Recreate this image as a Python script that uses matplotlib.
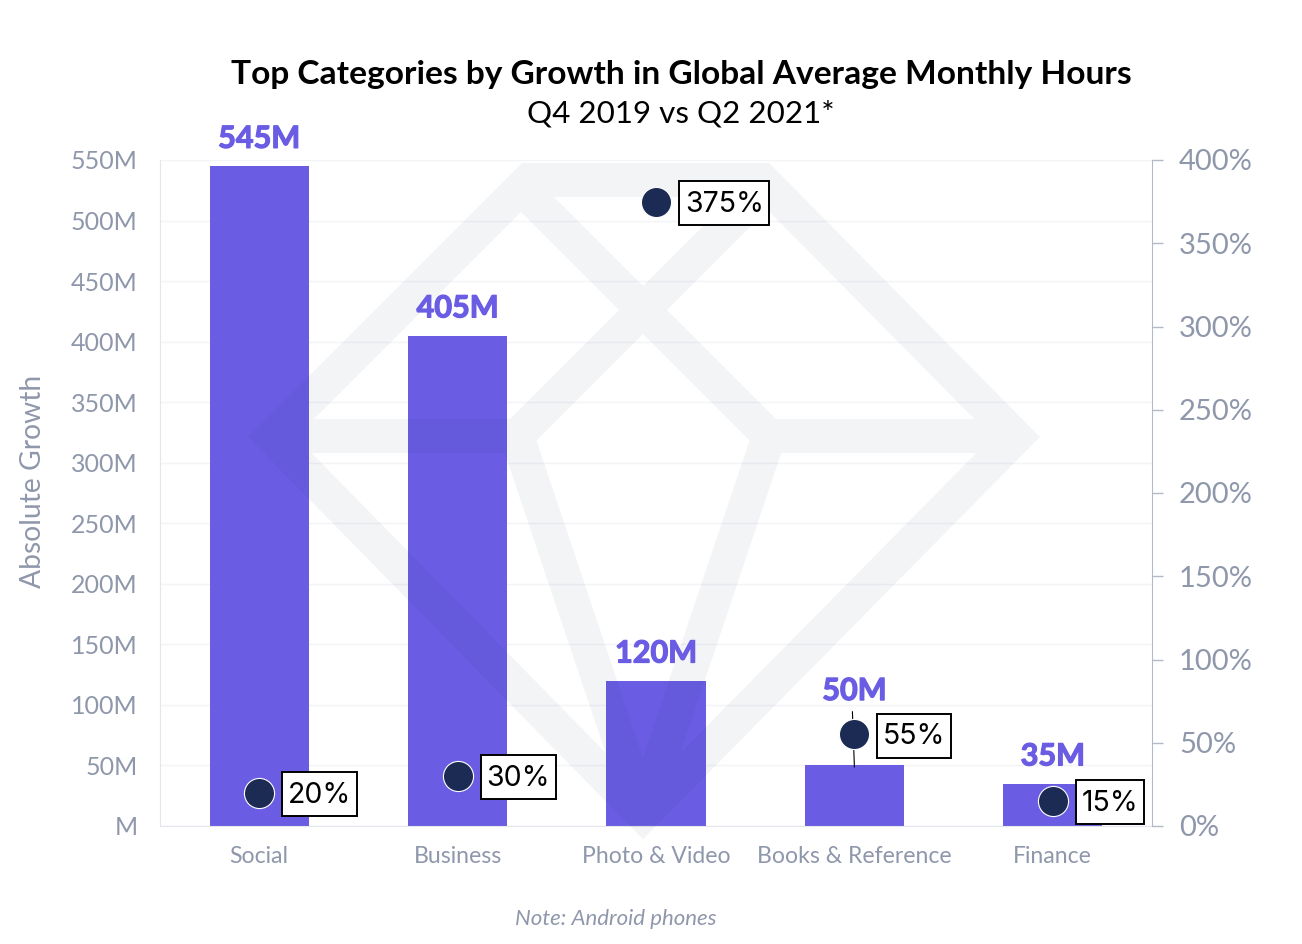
import matplotlib
matplotlib.use("Agg")
import matplotlib.pyplot as plt
import matplotlib.patheffects as pe
from matplotlib.path import Path
from matplotlib.patches import PathPatch
from matplotlib.transforms import Affine2D, ScaledTranslation

plt.rcParams['font.family'] = ['Lato', 'DejaVu Sans']

categories = ["Social", "Business", "Photo & Video", "Books & Reference", "Finance"]
absolute_growth = [545, 405, 120, 50, 35]
percent_growth = [20, 30, 375, 55, 15]
left_ticks = list(range(0, 551, 50))
left_tick_labels = ["M"] + [str(v) + "M" for v in left_ticks[1:]]
right_ticks = list(range(0, 401, 50))
right_tick_labels = [str(v) + "%" for v in right_ticks]

# leader line on the books bar, (category position, percent)
leader_x = [2.99, 3.0]
leader_y = [68.6, 35.5]

# background logo, in image pixels
logo_outline = [(529, 181), (762, 181), (1016, 438), (643, 816), (272, 438)]
logo_lines = [
    [(272, 437), (517, 437)],
    [(769, 437), (1016, 437)],
    [(522, 190), (769, 437), (643, 812)],
    [(764, 190), (517, 437), (643, 812)],
]

PURPLE = "#6A5DE3"
GREY = "#8F97AB"
NAVY = "#1B2B54"


def label_box(x0, y0, width, height, mutation_size):
    # rectangle with more room above and below than at the sides
    padx = 0.2 * mutation_size
    pady = 0.3 * mutation_size
    x1, y1 = x0 + width + padx, y0 + height + pady
    x0, y0 = x0 - padx, y0 - pady
    return Path([(x0, y0), (x1, y0), (x1, y1), (x0, y1), (x0, y0)], closed=True)


fig = plt.figure(figsize=(13.02, 9.45), dpi=100)
ax = fig.add_axes([160 / 1302, 1 - 827 / 945, 992 / 1302, 666 / 945])
ax2 = ax.twinx()

x = list(range(len(categories)))
ax.bar(x, absolute_growth, width=0.5, color=PURPLE, zorder=2)
ax.set_xlim(-0.5, 4.5)
ax.set_ylim(0, 550)
ax.set_yticks(left_ticks)
ax.set_yticklabels(left_tick_labels, fontsize=18, color=GREY)
ax.set_xticks(x)
ax.set_xticklabels(categories, fontsize=16.6, color=GREY)
ax.tick_params(axis="y", length=0, pad=16)
ax.tick_params(axis="x", length=0, pad=14)
ax.grid(axis="y", color="#F3F4F7", linewidth=1, zorder=0)
ax.set_axisbelow(True)
ax.set_ylabel("Absolute Growth", fontsize=20.3, color=GREY)
ax.yaxis.set_label_coords(-114 / 992, (827 - 481) / 666)

for s in ["top", "right"]:
    ax.spines[s].set_visible(False)
ax.spines["left"].set_color("#E4E6EB")
ax.spines["bottom"].set_color("#E4E6EB")

for i, v in enumerate(absolute_growth):
    # the 50M label sits above its bubble
    offset = 43.5 if v == 50 else 9.5
    ax.annotate(str(v) + "M", (i, v), xytext=(0, offset), textcoords="offset points",
                ha="center", va="bottom", fontsize=22, fontweight="bold", color=PURPLE, zorder=4,
                path_effects=[pe.withStroke(linewidth=0.9, foreground=PURPLE)])

verts = list(logo_outline) + [logo_outline[0]]
codes = [Path.MOVETO] + [Path.LINETO] * (len(logo_outline) - 1) + [Path.CLOSEPOLY]
for line in logo_lines:
    for j, p in enumerate(line):
        verts.append(p)
        codes.append(Path.MOVETO if j == 0 else Path.LINETO)
to_fig = Affine2D().scale(1, -1).translate(0, 945)
logo = PathPatch(Path(verts, codes), facecolor="none", edgecolor="#1B2B54", alpha=0.05,
                 linewidth=34 * 0.72, joinstyle="miter", capstyle="butt",
                 transform=to_fig, clip_on=False, zorder=3)
ax.add_patch(logo)

ax2.set_ylim(0, 400)
ax2.set_yticks(right_ticks)
ax2.set_yticklabels(right_tick_labels, fontsize=21, color=GREY)
ax2.tick_params(axis="y", length=8, width=1, color="#B4B9C8", pad=11.5)
for s in ["top", "left", "bottom"]:
    ax2.spines[s].set_visible(False)
ax2.spines["right"].set_color("#B4B9C8")

# tick labels sit a pixel higher than the ticks
up = ScaledTranslation(0, 1 / 100, fig.dpi_scale_trans)
for label in ax.get_yticklabels() + ax2.get_yticklabels():
    label.set_transform(label.get_transform() + up)

ax2.plot(leader_x, leader_y, color="black", linewidth=0.8, zorder=5)
ax2.scatter(x, percent_growth, s=470, color=NAVY, edgecolor="white", linewidth=0.8, zorder=6)
for i, p in enumerate(percent_growth):
    ax2.annotate(str(p) + "%", (i, p), xytext=(20.7, -1), textcoords="offset points",
                 ha="left", va="center", fontsize=20.5, family=["Inter", "DejaVu Sans"],
                 color="black", zorder=7,
                 bbox=dict(boxstyle=label_box, facecolor="white", edgecolor="black", linewidth=1.4))

fig.text(681 / 1302, 1 - 75 / 945, "Top Categories by Growth in Global Average Monthly Hours",
         ha="center", va="center", fontsize=24.1, fontweight="bold", color="black")
fig.text(681 / 1302, 1 - 113.5 / 945, "Q4 2019 vs Q2 2021*", ha="center", va="center",
         fontsize=22.6, color="black")
fig.text(616 / 1302, 1 - 919 / 945, "Note: Android phones", ha="center", va="center",
         fontsize=16, style="italic", color=GREY)

fig.savefig("out.png", dpi=100)
